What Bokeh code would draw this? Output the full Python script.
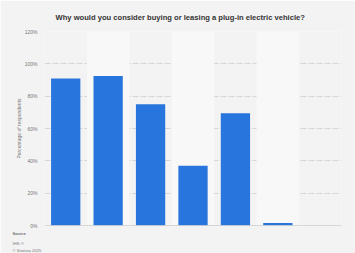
from bokeh.plotting import figure
from bokeh.models import Range1d, Span, FixedTicker, CustomJSTickFormatter, Title
from bokeh.embed import file_html
from bokeh.resources import INLINE

categories = ["1", "2", "3", "4", "5", "6", "7"]
values = [91.0, 92.5, 75.0, 37.0, 69.5, 1.5, 0.0]
y_ticks = [0, 20, 40, 60, 80, 100, 120]
title_text = "Why would you consider buying or leasing a plug-in electric vehicle?"
y_label = "Percentage of respondents"
footer = ["Source", "IHS \u00ae", "\u00a9 Statista 2025"]

xs = list(range(1, len(categories) + 1))
band_x = [x for x in xs if x % 2 == 0]

p = figure(width=355, height=253, output_backend="svg", toolbar_location=None,
           x_range=Range1d(0.5, 7.5), y_range=Range1d(0, 120),
           min_border_left=44, min_border_right=14, min_border_top=30, min_border_bottom=28)
p.background_fill_color = "#f3f3f3"
p.border_fill_color = "#f3f3f3"
p.outline_line_color = None

p.vbar(x=band_x, top=[120] * len(band_x), width=1.0, bottom=0, color="#f8f8f8", line_color=None)
p.vbar(x=xs, top=values, width=0.69, color="#2876dd", line_color=None)

p.xaxis.visible = False
p.xgrid.visible = False
p.ygrid.ticker = FixedTicker(ticks=y_ticks)
p.ygrid.grid_line_color = "#d6d6d6"
p.ygrid.grid_line_dash = "6 2"
p.ygrid.grid_line_width = 1

ax = p.yaxis[0]
ax.ticker = FixedTicker(ticks=y_ticks)
ax.formatter = CustomJSTickFormatter(code="return tick + '%';")
ax.axis_line_color = None
ax.major_tick_line_color = None
ax.minor_tick_line_color = None
ax.major_tick_out = 0
ax.major_tick_in = 0
ax.major_label_text_font_size = "5px"
ax.major_label_text_color = "#777777"
ax.major_label_text_font = "Liberation Sans"
ax.major_label_standoff = 7
ax.axis_label = y_label
ax.axis_label_text_font_size = "5px"
ax.axis_label_text_font_style = "normal"
ax.axis_label_text_color = "#777777"
ax.axis_label_text_font = "Liberation Sans"
ax.axis_label_standoff = 0

p.add_layout(Span(location=0, dimension="width", line_color="#b5b5b5", line_width=1))

p.title = Title(text=title_text, align="left", offset=11, standoff=20,
                text_font_size="7.6px", text_font_style="bold", text_color="#333333",
                text_font="Liberation Sans")
for i, t in enumerate(footer):
    p.add_layout(Title(text=t, align="left", offset=-32, standoff=6 if i == 0 else 0,
                       text_font_size="4.2px", text_font_style="normal",
                       text_color="#333333" if i == 0 else "#777777",
                       text_font="Liberation Sans"), "below")

open("out.html", "w").write(file_html(p, INLINE))
